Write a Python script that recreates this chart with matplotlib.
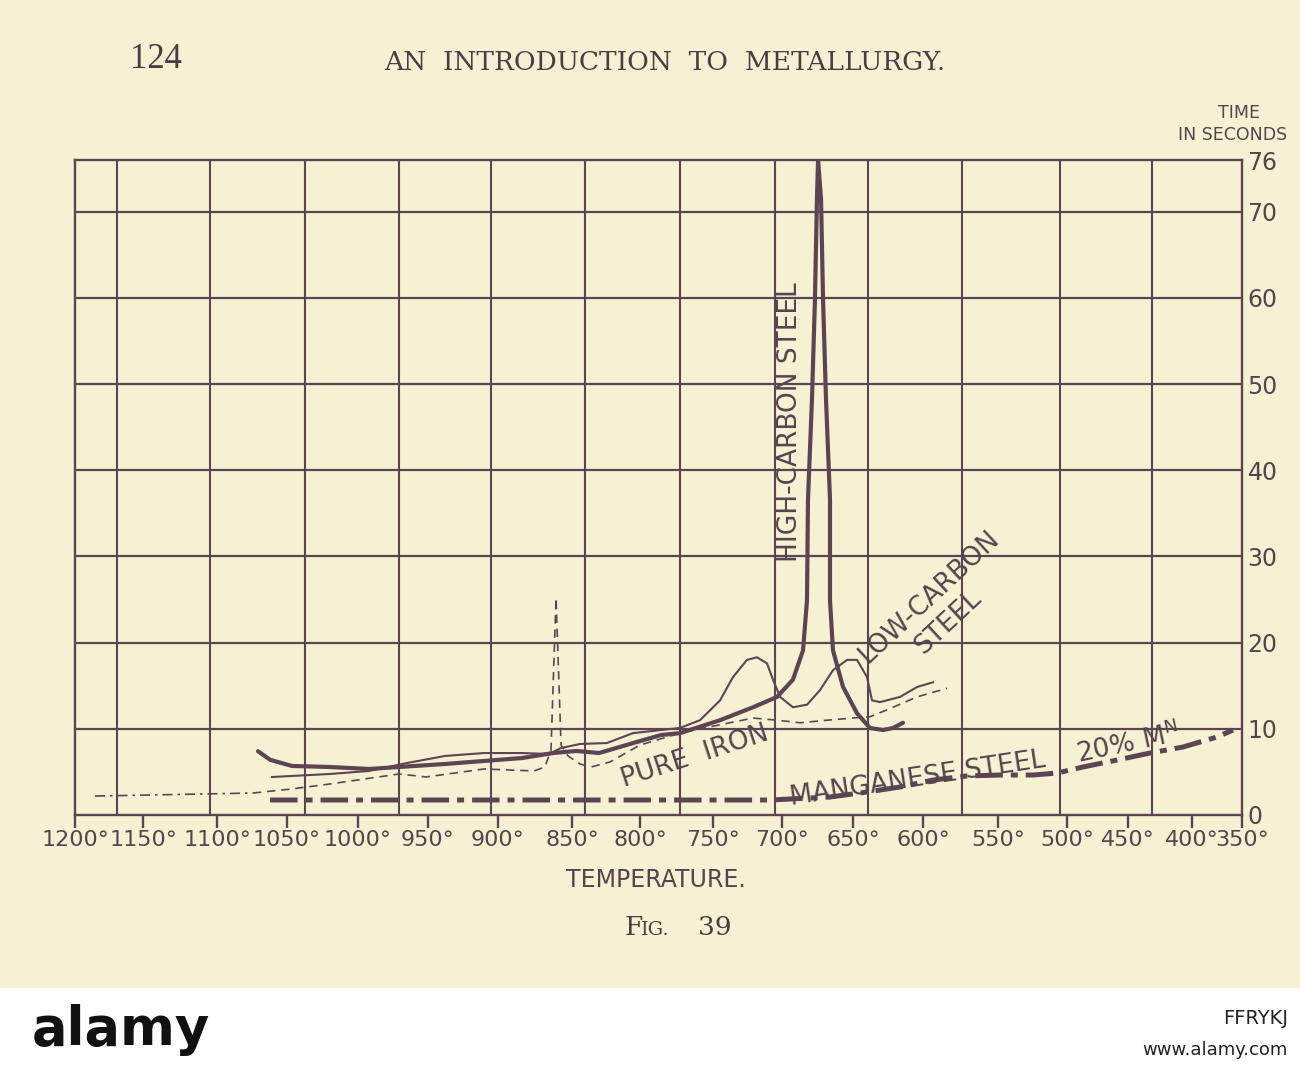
import numpy as np
import matplotlib
matplotlib.use("Agg")
import matplotlib.pyplot as plt
from matplotlib.patches import Rectangle

# ---------------- data ----------------
temp_ticks = [1200, 1150, 1100, 1050, 1000, 950, 900, 850, 800, 750,
              700, 650, 600, 550, 500, 450, 400, 350]
temp_labels = [f"{t}°" for t in temp_ticks]
time_ticks = [0, 10, 20, 30, 40, 50, 60, 70, 76]
time_labels = ["0", "10", "20", "30", "40", "50", "60", "70", "76"]

# high-carbon steel (thick solid)
hc_temp = [1070.7, 1062, 1046.5, 1019.7, 992.1, 970.7, 937.9, 910, 883.8, 862.8,
           847, 830.1, 807.4, 785.6, 772.6, 744.9, 721, 703.6, 692.3, 685.2,
           682.4, 681.7, 678.9, 676.8, 675.4, 674.6, 672.5, 671.1, 669, 666.2,
           666.2, 664.1, 657, 647.1, 637.9, 628.6, 621.4, 614.3]
hc_time = [7.4, 6.4, 5.69, 5.57, 5.34, 5.57, 5.92, 6.27, 6.61, 7.19,
           7.43, 7.19, 8.24, 9.28, 9.5, 11.0, 12.5, 13.7, 15.7, 19.1,
           24.9, 36.6, 48.2, 59.8, 71.4, 76.0, 71.4, 59.8, 48.2, 36.6,
           24.9, 19.1, 14.85, 11.8, 10.1, 9.86, 10.1, 10.7]

# low-carbon steel (thin solid)
lc_temp = [1060.7, 1019.7, 992.1, 965, 937.9, 910, 883.8, 865.5, 857.4, 844.1,
           824.3, 805.2, 772.6, 758.9, 744.9, 735.5, 725.4, 718.1, 710.9, 706.5,
           701.4, 692.3, 682.4, 673.2, 664.1, 654.2, 647.1, 640, 636.4, 630.7,
           616.4, 604.3, 593.3]
lc_time = [4.41, 4.76, 5.11, 6.03, 6.85, 7.19, 7.19, 7.08, 7.77, 8.24,
           8.35, 9.5, 10.1, 11.0, 13.3, 16.0, 18.0, 18.3, 17.6, 15.7,
           13.7, 12.5, 12.8, 14.5, 16.8, 18.0, 18.0, 16.0, 13.3, 13.1,
           13.7, 14.85, 15.4]

# pure iron (thin dashed; dash-dot at the hot end)
pi_hot_temp = [1185.3, 1074.3]
pi_hot_time = [2.2, 2.55]
pi_temp = [1074.3, 1047.9, 1019.7, 970.7, 951.4, 910, 875.7, 868.3, 864.2, 860.8,
           857.4, 852.7, 844.1, 836, 822.1, 800, 772.6, 747.1, 721, 703.6,
           687.3, 668.3, 650, 637.9, 625.7, 604.3, 584]
pi_time = [2.55, 3.0, 3.6, 4.76, 4.41, 5.34, 5.11, 5.57, 7.54, 25.2,
           8.12, 6.85, 5.92, 5.57, 6.15, 8.12, 9.5, 10.4, 11.25, 11.0,
           10.7, 11.0, 11.25, 11.4, 12.2, 13.7, 14.7]

# manganese steel 20% Mn (thick dash-dot)
mn_temp = [1062.1, 708.7, 666.2, 645, 616.4, 593.3, 570.7, 548.6, 524.6, 507.2,
           486.9, 459, 432.8, 407, 375, 359]
mn_time = [1.74, 1.74, 2.09, 2.55, 3.25, 4.06, 4.53, 4.64, 4.64, 4.87,
           5.57, 6.38, 7.19, 7.89, 9.05, 9.86]

# printed (slightly non-uniform) temperature scale of the original figure
scale_temp = [350, 400, 450, 500, 550, 600, 650, 700, 750, 800,
              850, 900, 950, 1000, 1050, 1100, 1150, 1200]
scale_pos = [58, 108, 172, 233, 302, 377, 447, 518, 587, 660,
             728, 802, 872, 942, 1013, 1083, 1157, 1225]

# ---------------- style ----------------
BG = "#F6F1D3"
INK = "#5C4453"
TXT = "#55444E"

st = np.array([0] + scale_temp + [2000], dtype=float)
sp = np.array([scale_pos[0] - 350] + scale_pos + [scale_pos[-1] + 800 * 68 / 50], dtype=float)


def fwd(t):
    return np.interp(t, st, sp)


def inv(u):
    return np.interp(u, sp, st)


W, H = 1300, 1078
fig = plt.figure(figsize=(W / 100, H / 100), dpi=100, facecolor=BG)
ax = fig.add_axes([75 / W, (H - 815) / H, (1242 - 75) / W, (815 - 160) / H])
ax.set_facecolor(BG)
ax.set_xscale("function", functions=(fwd, inv))
ax.set_xlim(1200, 350)
ax.set_ylim(0, 76)

# grid
for y in time_ticks[1:-1]:
    ax.axhline(y, color=INK, lw=1.6, zorder=1)
for px in [117, 210, 305, 399, 491, 585, 680, 775, 868, 962, 1060, 1152]:
    f = (px - 75) / (1242 - 75)
    ax.plot([f, f], [0, 1], transform=ax.transAxes, color=INK, lw=1.5, zorder=1)
for s in ax.spines.values():
    s.set_color(INK)
    s.set_linewidth(1.7)

# curves
ax.plot(pi_hot_temp, pi_hot_time, color=INK, lw=1.2, dashes=(6, 3, 1.5, 3), zorder=3)
ax.plot(pi_temp, pi_time, color=INK, lw=1.2, dashes=(5, 3.5), zorder=3)
ax.plot(lc_temp, lc_time, color=INK, lw=1.5, solid_joinstyle="round", zorder=4)
ax.plot(hc_temp, hc_time, color=INK, lw=3.0, solid_joinstyle="round",
        solid_capstyle="round", zorder=5)
ax.plot(mn_temp, mn_time, color=INK, lw=3.6, dashes=(5.5, 1.6, 1.4, 1.6), zorder=5)

# ticks
ax.set_xticks(temp_ticks)
ax.set_xticklabels(temp_labels)
ax.xaxis.set_minor_locator(matplotlib.ticker.NullLocator())
ax.tick_params(axis="x", direction="out", length=9, width=1.7, color=INK,
               labelsize=16, labelcolor=TXT, pad=2)
ax.yaxis.tick_right()
ax.set_yticks(time_ticks)
ax.set_yticklabels(time_labels)
ax.tick_params(axis="y", length=0, labelsize=17, labelcolor=TXT, pad=4)

# curve labels
lab = dict(color=TXT, fontsize=19, ha="center", va="center", family="DejaVu Sans",
           rotation_mode="anchor", zorder=6)
ax.text(694.4, 45.6, "HIGH-CARBON STEEL", rotation=90, **lab)
ax.text(596, 25.3, "LOW-CARBON", rotation=43, **lab)
ax.text(583.3, 22.4, "STEEL", rotation=43, **lab)
ax.text(762.3, 6.73, "PURE  IRON", rotation=18, **lab)
ax.text(603.6, 4.18, "MANGANESE STEEL", rotation=8.5, **lab)
ax.text(450, 8.2, "20% M$^{\\mathregular{N}}$", rotation=12, **lab)

# page text
fig.text(130 / W, 1 - 60 / H, "124", family="Liberation Serif", fontsize=25,
         color="#4A3D45", ha="left", va="center")
fig.text(665 / W, 1 - 62 / H, "AN  INTRODUCTION  TO  METALLURGY.", family="DejaVu Serif",
         fontsize=19, color="#4A3D45", ha="center", va="center")
fig.text(1239 / W, 1 - 113 / H, "TIME", fontsize=12.5, color=TXT, ha="center", va="center")
fig.text(1233 / W, 1 - 135 / H, "IN SECONDS", fontsize=12.5, color=TXT, ha="center", va="center")
fig.text(656 / W, 1 - 880 / H, "TEMPERATURE.", fontsize=17, color=TXT, ha="center", va="center")
fig.text(624 / W, 1 - 935 / H, "F", family="DejaVu Serif", fontsize=19, color="#4A3D45",
         ha="left", va="baseline")
fig.text(641 / W, 1 - 935 / H, "IG.", family="DejaVu Serif", fontsize=14, color="#4A3D45",
         ha="left", va="baseline")
fig.text(698 / W, 1 - 935 / H, "39", family="DejaVu Serif", fontsize=19, color="#4A3D45",
         ha="left", va="baseline")

# bottom strip of the stock image
fig.patches.append(Rectangle((0, 0), 1, 90 / H, transform=fig.transFigure,
                             facecolor="white", edgecolor="none", zorder=0))
fig.text(32 / W, 1 - 1030 / H, "alamy", fontsize=38, fontweight="bold", color="#111111",
         ha="left", va="center")
fig.text(1288 / W, 1 - 1018 / H, "FFRYKJ", fontsize=14, color="#222222", ha="right", va="center")
fig.text(1288 / W, 1 - 1050 / H, "www.alamy.com", fontsize=13, color="#222222", ha="right", va="center")

fig.savefig("out.png", dpi=100, facecolor=BG)
